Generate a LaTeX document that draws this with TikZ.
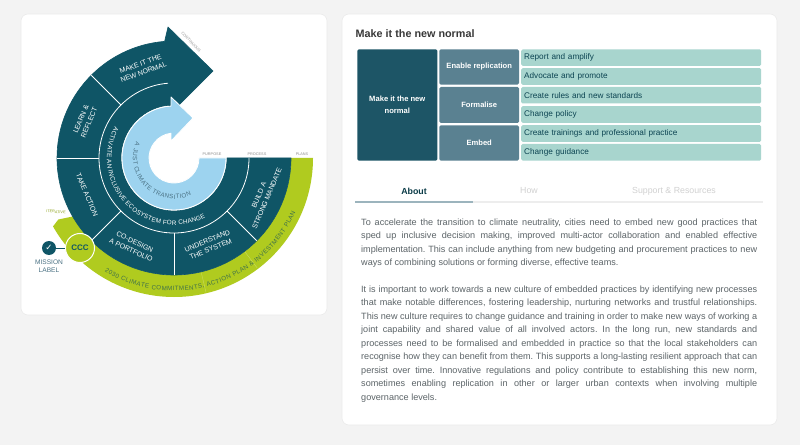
\documentclass[tikz,border=0pt]{standalone}
\usepackage{fontspec}
\setmainfont{Liberation Sans}
\newfontfamily\symfont{DejaVu Sans}
\usepackage{xcolor}
\usetikzlibrary{decorations.text}
\definecolor{deep}{HTML}{0F5566}
\definecolor{bigbox}{HTML}{1D5566}
\definecolor{midbox}{HTML}{5A8191}
\definecolor{itembox}{HTML}{A8D5CE}
\definecolor{sky}{HTML}{9DD3EF}
\definecolor{lime}{HTML}{B0CB1F}
\definecolor{page}{HTML}{F3F3F3}
\definecolor{bodytext}{HTML}{5C6468}
\definecolor{limetext}{HTML}{40704A}
\definecolor{skytext}{HTML}{4A7183}
\newcommand{\px}[2]{\fontsize{#1}{#2}\selectfont}
\frenchspacing
\begin{document}
\begin{tikzpicture}[x=1pt,y=1pt,
  cardn/.style={draw=black!8,fill=white,rounded corners=7pt,line width=.6pt},
  sectorn/.style={text=white,font=\px{7}{8.8},align=center,inner sep=0pt},
  tinyn/.style={text=black!45,font=\px{3.8}{4},inner sep=0pt},
  bign/.style={fill=bigbox,rounded corners=1.5pt,text=white,font=\bfseries\px{7.6}{12.5},align=center,inner sep=0pt},
  midn/.style={fill=midbox,rounded corners=1.5pt,text=white,font=\bfseries\px{7.6}{9},align=center,inner sep=0pt},
  itemn/.style={fill=itembox,rounded corners=1.5pt,text=deep!80!black,font=\px{8.2}{9},anchor=west,
    minimum width=240pt,minimum height=16.6pt,text width=234pt,inner xsep=3pt,inner ysep=0pt},
  tabn/.style={font=\bfseries\px{8.8}{10},inner sep=0pt},
  parn/.style={anchor=north west,inner sep=0pt,text width=396pt,align=justify,text=bodytext,font=\px{9.1}{13.5}},
  sepn/.style={draw=white,line width=.8pt}]
  \useasboundingbox (0,0) rectangle (800,445);
  \fill[page] (0,0) rectangle (800,445);
  \path[cardn] (21,130) rectangle (327,431);
  \path[cardn] (342,20) rectangle (777,431);

  % wheel
  \begin{scope}[shift={(174,287)}]
    \fill[lime] (0:139) arc[start angle=0,end angle=-150.5,radius=139]
      -- (208:131) -- (210:117) arc[start angle=210,end angle=360,radius=117] -- cycle;
    \foreach \a in {-76.6,-52.9}
      \draw[lime!70!white,line width=.4pt] (\a:118) -- (\a:138);
    \draw[fill=deep,draw=deep,line join=round,line width=.6pt] (0:53) -- (0:117)
      arc[start angle=0,end angle=-265.4,radius=117]
      -- (-6,131) -- (39,87) -- (0,48) -- (-6,52.7)
      arc[start angle=96.5,end angle=360,radius=53] -- cycle;
    \draw[sepn] (0:75) arc[start angle=0,end angle=-265.4,radius=75];
    \foreach \a in {-45,-90,-135,180,135}
      \draw[sepn] (\a:75) -- (\a:117);
    \draw[fill=sky,draw=white,line join=round,line width=.8pt] (0:25) -- (0:52)
      arc[start angle=0,end angle=-266.7,radius=52]
      -- (-3,61) -- (19,40) -- (-3,17) -- (-3,24.8)
      arc[start angle=96.9,end angle=360,radius=25] -- cycle;

    \node[sectorn,rotate=20] (normal) at (-32,90) {MAKE IT THE\\NEW NORMAL};
    \node[sectorn,rotate=67] (learn) at (-89,37) {LEARN \&\\REFLECT};
    \node[sectorn,rotate=-67] (act) at (-87,-37) {TAKE ACTION};
    \node[sectorn,rotate=-25] (codesign) at (-41,-88) {CO-DESIGN\\A PORTFOLIO};
    \node[sectorn,rotate=22] (understand) at (35,-87) {UNDERSTAND\\THE SYSTEM};
    \node[sectorn,rotate=67] (mandate) at (89,-39) {BUILD A\\STRONG MANDATE};

    \path[decorate,decoration={text along path,text align=fit to path,
      text={|\px{6.4}{7}\color{white}|ACTIVATE AN INCLUSIVE ECOSYSTEM FOR CHANGE}}]
      (152:67) arc[start angle=152,end angle=298,radius=67];
    \path[decorate,decoration={text along path,text align=fit to path,
      text={|\px{6.2}{7}\color{skytext}|A JUST CLIMATE TRANSITION}}]
      (157:41) arc[start angle=157,end angle=295,radius=41];
    \path[decorate,decoration={text along path,text align=fit to path,
      text={|\px{6.2}{7}\color{limetext}|2030 CLIMATE COMMITMENTS, ACTION PLAN {\&} INVESTMENT PLAN}}]
      (238.6:133) arc[start angle=238.6,end angle=336,radius=133];
  \end{scope}

  \node[tinyn] (purpose) at (212,291) {PURPOSE};
  \node[tinyn] (process) at (257,291) {PROCESS};
  \node[tinyn] (plans) at (302,291) {PLANS};
  \node[tinyn,rotate=-45] (continuous) at (191,403) {CONTINUOUS};
  \node[tinyn,text=lime!80!black,rotate=-5] (iterative) at (56,233) {ITERATIVE};

  \node[circle,fill=lime,draw=white,line width=1pt,minimum size=29pt,inner sep=0pt,
    text=deep,font=\bfseries\px{8}{9}] (ccc) at (80,197) {CCC};
  \node[circle,fill=deep,minimum size=14pt,inner sep=0pt,text=white,font=\symfont\px{8.5}{9}] (check) at (49,197) {✓};
  \draw[deep,line width=1pt] (check) -- (ccc);
  \node[text=skytext,font=\px{6.6}{8.5},align=center,inner sep=0pt] (mission) at (49,179) {MISSION\\LABEL};

  % table
  \node[anchor=west,inner sep=0pt,text=black!78,font=\bfseries\px{10.8}{12}] (title) at (355.5,411.5) {Make it the new normal};
  \node[bign,minimum width=80pt,minimum height=111.4pt] (top) at (397.3,340) {Make it the new\\normal};
  \foreach \n/\y/\h/\t in {rep/378/35.4/Enable replication,form/340/36/Formalise,emb/302/35.4/Embed}
    \node[midn,minimum width=79.6pt,minimum height=\h pt] (\n) at (479.2,\y) {\t};
  \foreach \n/\y/\t in {report/387.4/Report and amplify,advocate/368.5/Advocate and promote,
    rules/349.8/Create rules and new standards,policy/330.5/Change policy,
    trainings/311.5/Create trainings and professional practice,guidance/292.7/Change guidance}
    \node[itemn] (\n) at (521,\y) {\t};

  % tabs
  \node[tabn,text=deep!70!black] (about) at (414,254) {About};
  \node[tabn,text=black!18,font=\px{8.8}{10}] (how) at (529,254) {How};
  \node[tabn,text=black!18,font=\px{8.8}{10}] (support) at (674,254) {Support \& Resources};
  \fill[black!7] (355,241.8) rectangle (763,243.6);
  \fill[midbox!60] (355,241.8) rectangle (473,243.6);

  % text
  \node[parn] (para1) at (361,226.5) {
    To accelerate the transition to climate neutrality, cities need to embed new good practices that\linebreak
    sped up inclusive decision making, improved multi-actor collaboration and enabled effective\linebreak
    implementation. This can include anything from new budgeting and procurement practices to new\linebreak
    ways of combining solutions or forming diverse, effective teams.};
  \node[parn] (para2) at (361,159.5) {
    It is important to work towards a new culture of embedded practices by identifying new processes\linebreak
    that make notable differences, fostering leadership, nurturing networks and trustful relationships.\linebreak
    This new culture requires to change guidance and training in order to make new ways of working a\linebreak
    joint capability and shared value of all involved actors. In the long run, new standards and\linebreak
    processes need to be formalised and embedded in practice so that the local stakeholders can\linebreak
    recognise how they can benefit from them. This supports a long-lasting resilient approach that can\linebreak
    persist over time. Innovative regulations and policy contribute to establishing this new norm,\linebreak
    sometimes enabling replication in other or larger urban contexts when involving multiple\linebreak
    governance levels.};
\end{tikzpicture}
\end{document}
